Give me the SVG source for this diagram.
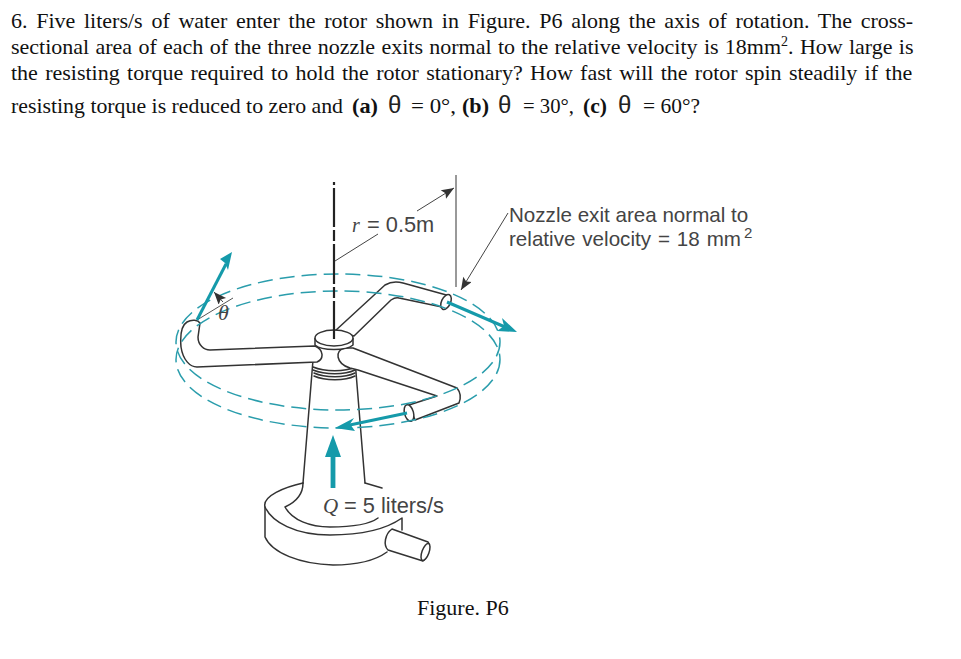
<svg xmlns="http://www.w3.org/2000/svg" width="961" height="659" viewBox="0 0 961 659">
<defs>
<marker id="ah" viewBox="0 0 10 8" refX="10" refY="4" markerWidth="14" markerHeight="10" markerUnits="userSpaceOnUse" orient="auto"><path d="M0 0L10 4L0 8L2 4Z" fill="#333"/></marker>
</defs>
<style>
.t{font-family:"Liberation Serif",serif;font-size:22px;fill:#111}
.b{font-weight:bold}
.s{font-family:"Liberation Sans",sans-serif;font-size:24px;fill:#222}
.l{font-family:"Liberation Sans",sans-serif;font-size:20.6px;fill:#444}
.m{font-family:"Liberation Sans",sans-serif;font-size:21.8px;fill:#444}
.i{font-family:"Liberation Serif",serif;font-style:italic;fill:#444}
.o{fill:none;stroke:#333;stroke-width:1.5;stroke-linecap:round;stroke-linejoin:round}
.w{fill:#fff;stroke:#333;stroke-width:1.5;stroke-linejoin:round}
.d{fill:none;stroke:#2a9dac;stroke-width:1.5;stroke-dasharray:15 7}
.a{fill:none;stroke:#159aaa;stroke-width:3}
.h{fill:#159aaa}
.n{fill:none;stroke:#444;stroke-width:1}
</style>
<rect width="961" height="659" fill="#fff"/>
<g id="problem-text">
<text class="t" x="11" y="28" word-spacing="3.200">6. Five liters/s of water enter the rotor shown in Figure. P6 along the axis of rotation. The cross-</text>
<text class="t" x="11" y="54" word-spacing="0.800">sectional area of each of the three nozzle exits normal to the relative velocity is 18mm<tspan style="font-size:14px" dy="-8">2</tspan><tspan dy="8">. How large is</tspan></text>
<text class="t" x="11" y="80" word-spacing="1.800">the resisting torque required to hold the rotor stationary? How fast will the rotor spin steadily if the</text>
<text class="t" x="11" y="113" textLength="332" lengthAdjust="spacingAndGlyphs" style="font-size:21.500px">resisting torque is reduced to zero and</text>
<text class="t b" x="352" y="113" textLength="26" lengthAdjust="spacingAndGlyphs">(a)</text><text class="s" x="388" y="113">θ</text><text class="t" x="411" y="113" textLength="45" lengthAdjust="spacingAndGlyphs">= 0°,</text>
<text class="t b" x="462" y="113" textLength="27" lengthAdjust="spacingAndGlyphs">(b)</text><text class="s" x="498" y="113">θ</text><text class="t" x="523" y="113" textLength="51" lengthAdjust="spacingAndGlyphs">= 30°,</text>
<text class="t b" x="583" y="113" textLength="24" lengthAdjust="spacingAndGlyphs">(c)</text><text class="s" x="618" y="113">θ</text><text class="t" x="643" y="113" textLength="57" lengthAdjust="spacingAndGlyphs">= 60°?</text>
</g>
<g id="base">
<path class="o" d="M303 483C285 487 262 496 265 507V537C272 553 300 564 333 565C358 565 376 560 387 552"/>
<path class="o" d="M365 483L382 488"/>
<path class="o" d="M265 507C272 522 295 535 330 535C360 535 385 530 402 518V530"/>
<path class="o" d="M303 483C303 495 296 502 285 507C292 520 310 527 330 527C352 527 370 524 378 518"/>
</g>
<g id="column">
<path class="o" d="M313 360L303 483"/>
<path class="o" d="M355 360L365 483"/>
<path class="o" d="M313 367C325 372 345 372 355 367M313 370C325 375 345 375 355 370M314 373C325 378 345 378 355 373M314 376C325 381 345 381 355 376"/>
</g>
<g id="outlet-pipe">
<path class="w" d="M392 529L428 542C431 546 428 557 423 561L388 550C383 545 385 534 392 529Z"/>
<ellipse class="w" cx="425.500" cy="552" rx="3.500" ry="9" transform="rotate(20 425.500 552)"/>
</g>
<g id="rotor">
<path class="w" d="M335 331L385 285C390 282 396 281 403 283L450 296L442 307L399 298C396 297 394 298 391 300L354 336Z"/>
<ellipse class="w" cx="446" cy="302" rx="4.500" ry="8" transform="rotate(25 446 302)"/>
<path class="w" d="M353 348L457 388C461 393 461 398 459 403L415 420L409 405L437 396L358 370L350 368C336 364 334 350 345 348Z"/>
<ellipse class="w" cx="409" cy="413" rx="4.500" ry="8.500" transform="rotate(-15 409 413)"/>
<path class="w" d="M315 346L210 350C204 350 198 345 198 337L200 323C198 320 192 319 187 322C182 325 180 335 181 347C183 360 190 367 197 367L317 362C324 359 324 350 315 346Z"/>
<path class="w" d="M315 338V345C322 351 346 351 353 345V338"/>
<ellipse class="w" cx="334" cy="338" rx="19" ry="8"/>
</g>
<g id="connectors">
<ellipse class="d" cx="338" cy="342" rx="162" ry="68"/>
<ellipse class="d" cx="338" cy="359.500" rx="162" ry="68.500"/>
<path stroke="#222" stroke-width="2.200" fill="none" stroke-dasharray="3 3 39 3 11 3 40 3 11 3 40" d="M334 182V339"/>
<path class="n" d="M335 261L378 234M417 211L454 188" marker-end="url(#ah)"/>
<path stroke="#777" stroke-width="1.500" d="M456 175V287"/>
<path class="n" d="M508 213L461 290" marker-end="url(#ah)"/>
<path stroke="#555" stroke-width="1" d="M197 320L233 298"/>
<path class="n" d="M223 302L214 292" marker-end="url(#ah)"/>
<path class="a" d="M197 320L226 264"/>
<path class="h" d="M232 252L228 270L225 263L220 259Z"/>
<path class="a" d="M447 302L505 327"/>
<path class="h" d="M517 332L497 331L504 326L502 318Z"/>
<path class="a" d="M407 413L345 426"/>
<path class="h" d="M335 428L354 418L350 424L355 431Z"/>
<rect class="h" x="330.600" y="452" width="4.800" height="36"/>
<path class="h" d="M333 435L341 457L325 457Z"/>
</g>
<g id="labels">
<text class="i" x="352" y="232" font-size="20">r</text><text class="m" x="367" y="232">= 0.5m</text>
<text class="l" x="509" y="222">Nozzle exit area normal to</text>
<text class="l" x="509" y="246" word-spacing="1.200">relative velocity = 18 mm</text><text class="l" x="744" y="238" style="font-size:15px">2</text>
<text class="i" x="218" y="320" font-size="22">θ</text>
<text class="i" x="323" y="513" font-size="21">Q</text><text class="m" x="344" y="513">= 5 liters/s</text>
<text class="t" x="417" y="615">Figure. P6</text>
</g>
</svg>
